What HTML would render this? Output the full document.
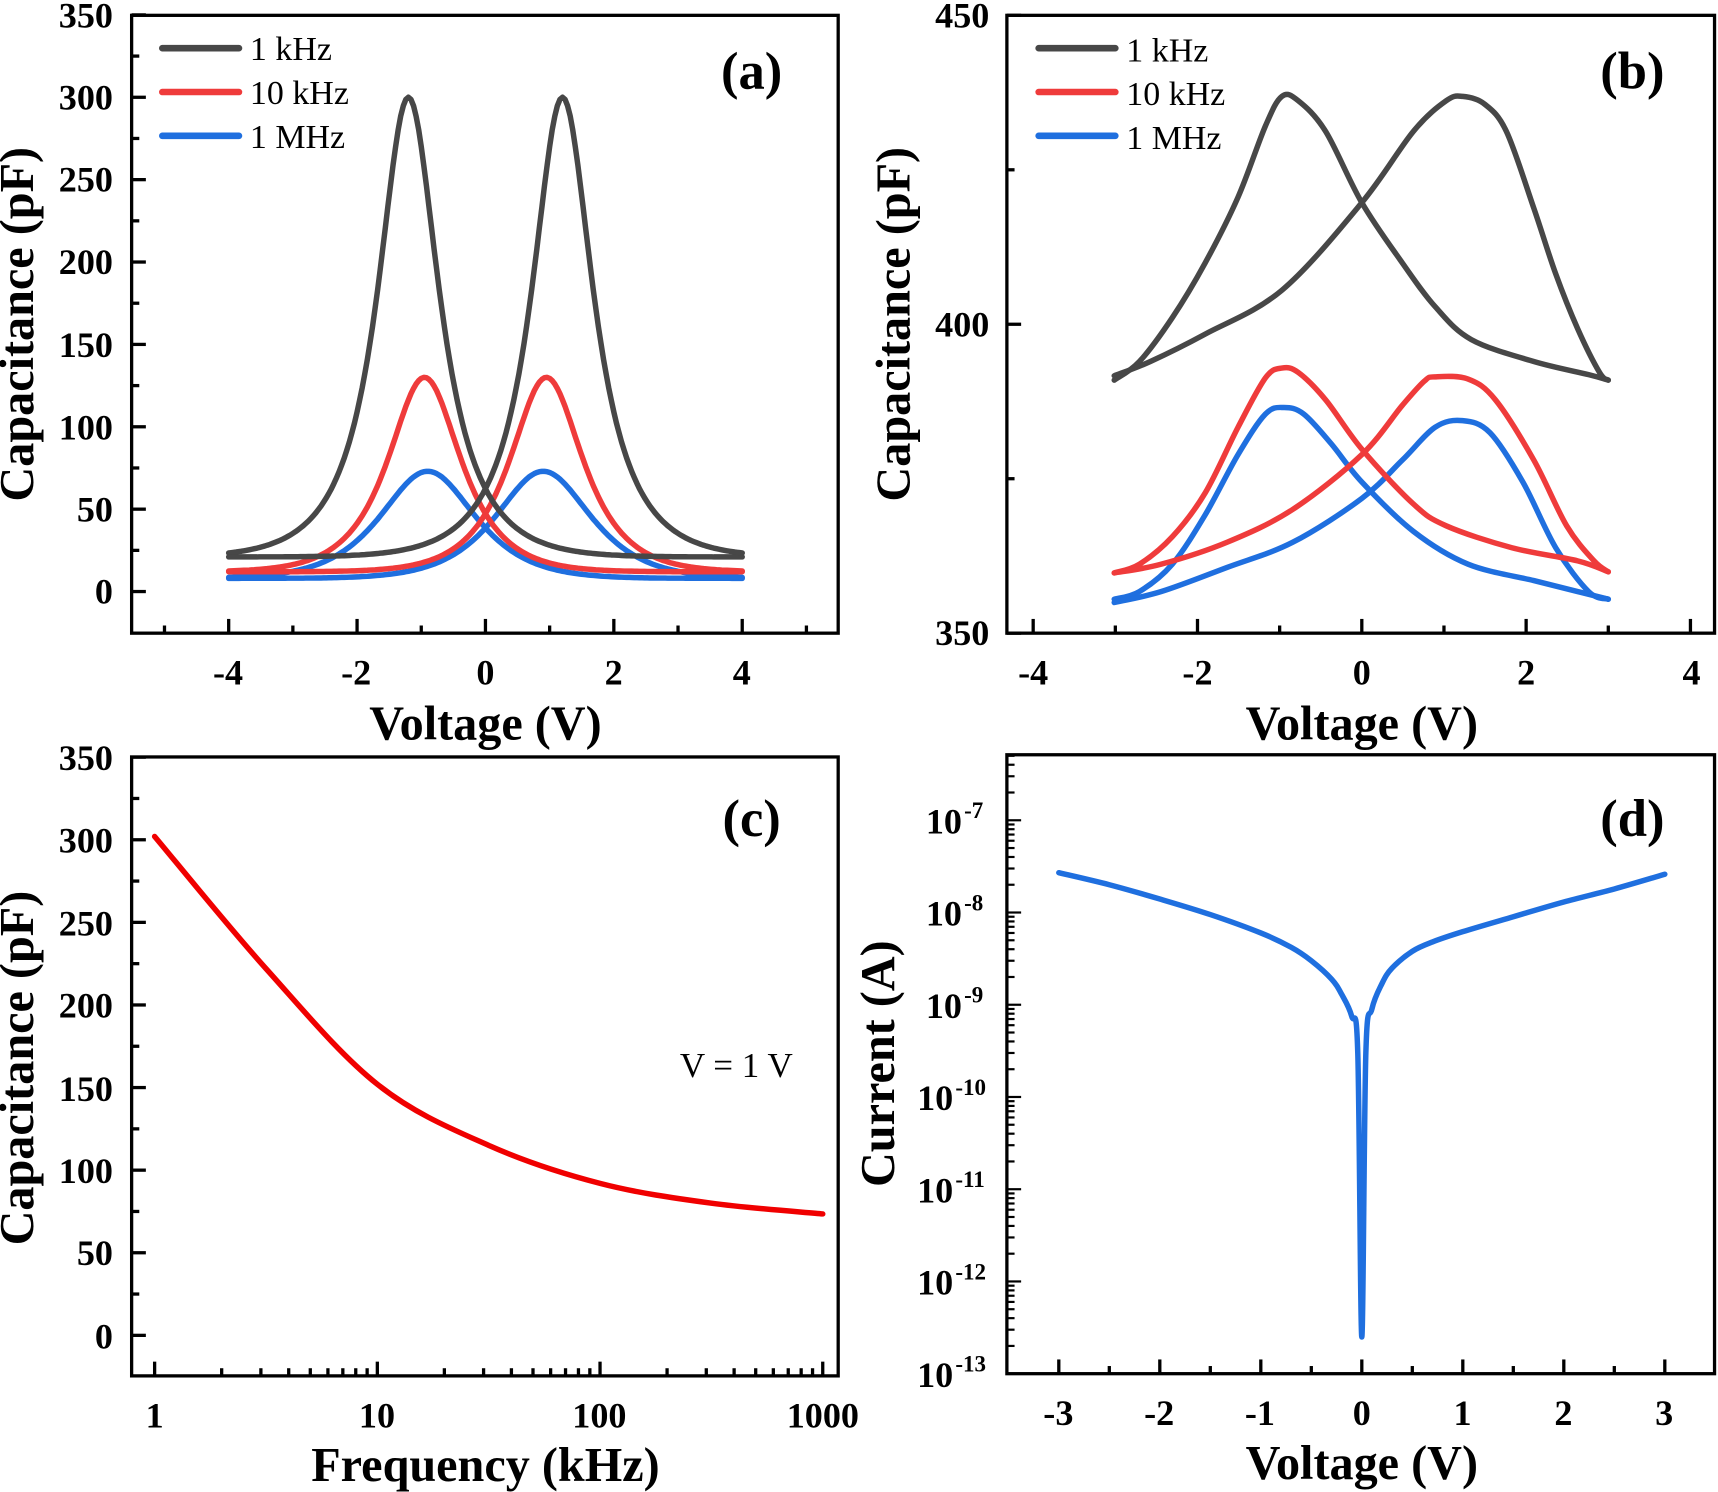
<!DOCTYPE html>
<html><head><meta charset="utf-8"><style>
html,body{margin:0;padding:0;background:#fff;}
svg{display:block;}
text{font-family:"Liberation Serif",serif;}
.t{font-weight:bold;font-size:33px;}
.ax{font-weight:bold;font-size:44px;}
.pl{font-weight:bold;font-size:48px;}
.lg{font-size:31px;}
</style></head><body>
<svg id="s" width="1718" height="1492" viewBox="0 0 1568 1362" xmlns="http://www.w3.org/2000/svg">
<g id="g" fill="none" stroke="#000" stroke-width="3"></g>
<g id="tx">
<text class="t" x="103" y="25" text-anchor="end">350</text>
<text class="t" x="103" y="100" text-anchor="end">300</text>
<text class="t" x="103" y="175" text-anchor="end">250</text>
<text class="t" x="103" y="250" text-anchor="end">200</text>
<text class="t" x="103" y="326" text-anchor="end">150</text>
<text class="t" x="103" y="401" text-anchor="end">100</text>
<text class="t" x="103" y="476" text-anchor="end">50</text>
<text class="t" x="103" y="551" text-anchor="end">0</text>
<text class="t" x="208" y="625" text-anchor="middle">-4</text>
<text class="t" x="325" y="625" text-anchor="middle">-2</text>
<text class="t" x="443" y="625" text-anchor="middle">0</text>
<text class="t" x="560" y="625" text-anchor="middle">2</text>
<text class="t" x="677" y="625" text-anchor="middle">4</text>
<text class="ax" x="443" y="675" text-anchor="middle">Voltage (V)</text>
<text class="ax" transform="translate(30,296) rotate(-90)" text-anchor="middle">Capacitance (pF)</text>
<text class="pl" x="686" y="81" text-anchor="middle">(a)</text>
<text class="lg" x="228" y="55">1 kHz</text>
<text class="lg" x="228" y="95">10 kHz</text>
<text class="lg" x="228" y="135">1 MHz</text>
<text class="t" x="903" y="25" text-anchor="end">450</text>
<text class="t" x="903" y="307" text-anchor="end">400</text>
<text class="t" x="903" y="589" text-anchor="end">350</text>
<text class="t" x="943" y="625" text-anchor="middle">-4</text>
<text class="t" x="1093" y="625" text-anchor="middle">-2</text>
<text class="t" x="1243" y="625" text-anchor="middle">0</text>
<text class="t" x="1393" y="625" text-anchor="middle">2</text>
<text class="t" x="1544" y="625" text-anchor="middle">4</text>
<text class="ax" x="1243" y="675" text-anchor="middle">Voltage (V)</text>
<text class="ax" transform="translate(830,296) rotate(-90)" text-anchor="middle">Capacitance (pF)</text>
<text class="pl" x="1490" y="81" text-anchor="middle">(b)</text>
<text class="lg" x="1028" y="56">1 kHz</text>
<text class="lg" x="1028" y="96">10 kHz</text>
<text class="lg" x="1028" y="136">1 MHz</text>
<text class="t" x="103" y="703" text-anchor="end">350</text>
<text class="t" x="103" y="778" text-anchor="end">300</text>
<text class="t" x="103" y="854" text-anchor="end">250</text>
<text class="t" x="103" y="929" text-anchor="end">200</text>
<text class="t" x="103" y="1005" text-anchor="end">150</text>
<text class="t" x="103" y="1080" text-anchor="end">100</text>
<text class="t" x="103" y="1155" text-anchor="end">50</text>
<text class="t" x="103" y="1231" text-anchor="end">0</text>
<text class="t" x="141" y="1303" text-anchor="middle">1</text>
<text class="t" x="344" y="1303" text-anchor="middle">10</text>
<text class="t" x="547" y="1303" text-anchor="middle">100</text>
<text class="t" x="751" y="1303" text-anchor="middle">1000</text>
<text class="ax" x="443" y="1352" text-anchor="middle">Frequency (kHz)</text>
<text class="ax" transform="translate(30,975) rotate(-90)" text-anchor="middle">Capacitance (pF)</text>
<text class="pl" x="686" y="763" text-anchor="middle">(c)</text>
<text x="672" y="983" text-anchor="middle" style="font-size:32px">V = 1 V</text>
<text class="t" x="966" y="1301" text-anchor="middle">-3</text>
<text class="t" x="1058" y="1301" text-anchor="middle">-2</text>
<text class="t" x="1150" y="1301" text-anchor="middle">-1</text>
<text class="t" x="1243" y="1301" text-anchor="middle">0</text>
<text class="t" x="1335" y="1301" text-anchor="middle">1</text>
<text class="t" x="1427" y="1301" text-anchor="middle">2</text>
<text class="t" x="1519" y="1301" text-anchor="middle">3</text>
<text class="ax" x="1243" y="1350" text-anchor="middle">Voltage (V)</text>
<text class="ax" transform="translate(816,971) rotate(-90)" text-anchor="middle">Current (A)</text>
<text class="pl" x="1490" y="763" text-anchor="middle">(d)</text>
</g>
</svg>
<script>
const NS="http://www.w3.org/2000/svg",g=document.getElementById('g'),tx=document.getElementById('tx');
function el(n,a,p){const e=document.createElementNS(NS,n);for(const k in a)e.setAttribute(k,a[k]);(p||g).appendChild(e);return e;}
function line(x1,y1,x2,y2,w){el('line',{x1,y1,x2,y2,'stroke-width':w||3});}
function poly(pts,c,w){el('polyline',{points:pts.map(p=>p[0].toFixed(1)+','+p[1].toFixed(1)).join(' '),stroke:c,'stroke-width':w||5,'stroke-linejoin':'round','stroke-linecap':'round'});}
const K='#474747',R='#ef3b3b',B='#1f6fdf',RC='#f00000';
el('rect',{x:120,y:14,width:645,height:564});
el('rect',{x:919,y:14,width:646,height:564});
el('rect',{x:120,y:691,width:645,height:565});
el('rect',{x:919,y:689,width:646,height:565});
const ay=v=>540-v*1.504, ax=v=>443+v*58.6;
for(let v=0;v<=350;v+=25){line(120,ay(v),120+(v%50?7:13),ay(v));}
for(let v=-5;v<=5;v++){line(ax(v),578,ax(v),578-(v%2?7:13));}
function pk(v,c,b,a,w,d){const x=v-c;return b+a/(1+Math.pow(x/w,2))*Math.exp(-Math.pow(x/d,2));}
function curveA(c,b,a,w,d,col){for(const s of[-1,1]){const p=[];for(let v=-4;v<=4.001;v+=0.04)p.push([ax(v),ay(pk(v,s*c,b,a,w,d))]);poly(p,col);}}
curveA(0.9,8,65,1.05,2.0,B);curveA(0.95,12,118,0.75,1.9,R);curveA(1.2,21,279,0.6,2.2,K);
poly([[148,44],[218,44]],K,6);poly([[148,84],[218,84]],R,6);poly([[148,124],[218,124]],B,6);
const by=v=>296-(v-400)*5.64, bx=v=>1243+v*75;
for(let v=350;v<=450;v+=25)line(919,by(v),919+(v%50?7:13),by(v));
for(let v=-4;v<=4;v++)line(bx(v),578,bx(v),578-(v%2?7:13));
function sm(p,col){
 let d='M'+p[0][0]+','+p[0][1];
 for(let i=0;i<p.length-1;i++){const p0=p[i-1]||p[i],p1=p[i],p2=p[i+1],p3=p[i+2]||p2;
  d+=' C'+(p1[0]+(p2[0]-p0[0])/6)+','+(p1[1]+(p2[1]-p0[1])/6)+' '+(p2[0]-(p3[0]-p1[0])/6)+','+(p2[1]-(p3[1]-p1[1])/6)+' '+p2[0]+','+p2[1];}
 el('path',{d,stroke:col,'stroke-width':5,'stroke-linejoin':'round','stroke-linecap':'round'});}
sm([[1017,547],[1040,540],[1070,515],[1100,470],[1130,415],[1155,378],[1172,372],[1190,378],[1215,405],[1243,440],[1290,485],[1340,515],[1400,530],[1440,540],[1468,547]],B);
sm([[1017,550],[1060,540],[1120,518],[1180,495],[1243,455],[1280,420],[1310,390],[1335,384],[1360,395],[1390,440],[1420,500],[1450,540],[1468,547]],B);
sm([[1017,523],[1040,515],[1070,490],[1100,450],[1130,390],[1155,345],[1170,336],[1185,340],[1210,365],[1243,410],[1290,460],[1320,480],[1380,500],[1440,512],[1468,522]],R);
sm([[1017,523],[1060,515],[1120,495],[1180,465],[1243,415],[1280,370],[1300,348],[1310,344],[1340,346],[1365,365],[1400,420],[1430,480],[1455,512],[1468,522]],R);
sm([[1017,347],[1040,330],[1070,290],[1100,240],[1130,180],[1155,115],[1170,88],[1185,92],[1210,120],[1243,185],[1280,240],[1310,280],[1343,310],[1400,330],[1450,342],[1468,347]],K);
sm([[1017,343],[1050,330],[1100,305],[1170,265],[1243,185],[1290,120],[1320,92],[1335,88],[1355,95],[1375,120],[1400,190],[1420,250],[1440,300],[1460,340],[1468,347]],K);
poly([[948,44],[1018,44]],K,6);poly([[948,84],[1018,84]],R,6);poly([[948,124],[1018,124]],B,6);
const cy=v=>1219-v*1.508, cx=l=>141+l*203.3;
for(let v=0;v<=350;v+=25)line(120,cy(v),120+(v%50?7:13),cy(v));
for(let d=0;d<3;d++)for(let m=1;m<10;m++){const x=cx(d+Math.log10(m));line(x,1256,x,1256-(m==1?13:7));}
line(cx(3),1256,cx(3),1243);
{const L=[0,0.5,1,1.5,2,2.5,3],V=[302,222,152,115,92,80,73.5];const p=[];for(let i=0;i<L.length;i++)p.push([cx(L[i]),cy(V[i])]);sm(p,RC);}
const dy=l=>1254-(l+13)*84.2, dx=v=>1243+v*92.2;
for(let e=-13;e<=-6;e++){for(let m=1;m<10;m++){const y=dy(e+Math.log10(m));if(y<689)continue;line(919,y,919+(m==1?13:7),y,2);}}
for(let v=-3;v<=3;v+=0.5)line(dx(v),1254,dx(v),1254-(v%1?7:13));
[-7,-8,-9,-10,-11,-12,-13].forEach(e=>{const y=dy(e);const t=el('text',{x:e<=-10?870:878,y:y+12,'text-anchor':'end',class:'t'},tx);t.textContent='10';const s=el('text',{x:e<=-10?872:880,y:y-2,class:'t',style:'font-size:21px'},tx);s.textContent=String(e);});
{const V=[-3,-2.5,-2,-1.5,-1,-0.7,-0.5,-0.3,-0.2,-0.1,-0.04,0,0.04,0.1,0.2,0.3,0.5,0.7,1,1.5,2,2.5,3],
 I=[2.7e-8,2.0e-8,1.4e-8,9.5e-9,6e-9,4.2e-9,3.0e-9,1.9e-9,1.3e-9,7.5e-10,3e-10,2.5e-13,3e-10,9e-10,1.7e-9,2.5e-9,3.8e-9,4.8e-9,6.2e-9,9e-9,1.3e-8,1.8e-8,2.6e-8];
 const p=V.map((v,i)=>[dx(v),dy(Math.log10(I[i]))]);sm(p,B);}
</script>
</body></html>
